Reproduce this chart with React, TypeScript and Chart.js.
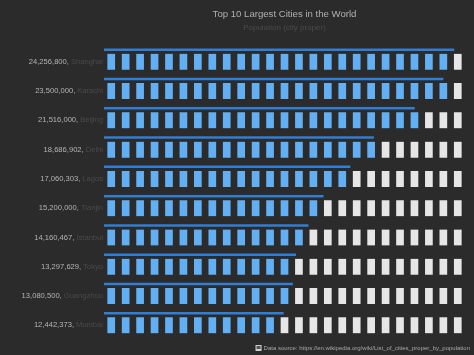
import React, { useEffect, useRef } from "react";
import { Chart, registerables } from "chart.js";

Chart.register(...registerables);

const TITLE = "Top 10 Largest Cities in the World";
const SUBTITLE = "Population (city proper)";
const SOURCE = "Data source: https://en.wikipedia.org/wiki/List_of_cities_proper_by_population";

const CITIES = ["Shanghai", "Karachi", "Beijing", "Delhi", "Lagos", "Tianjin", "Istanbul", "Tokyo", "Guangzhou", "Mumbai"];
const POPULATION = [24256800, 23500000, 21516000, 18686902, 17060303, 15200000, 14160467, 13297629, 13080500, 12442373];
const UNIT = 1000000; // one icon = 1 million people
const ICON_COUNT = 25;

const BG = "#2b2b2b";
const ICON_ON = "#62b0f3";
const ICON_OFF = "#e6e6e6";
const LINE = "#2f7fd6";
const VALUE_COLOR = "#b4b4b4";
const NAME_COLOR = "#4a4a4a";
const FONT = "'Liberation Sans', Arial, sans-serif";

const labelPlugin = {
  id: "cityLabels",
  afterDraw(chart: any) {
    const { ctx, chartArea, scales } = chart;
    const y = scales.y;
    ctx.save();
    ctx.font = `7.6px ${FONT}`;
    ctx.textBaseline = "middle";
    ctx.textAlign = "right";
    CITIES.forEach((city, i) => {
      const py = y.getPixelForValue(i);
      let x = chartArea.left - 1;
      ctx.fillStyle = NAME_COLOR;
      ctx.fillText(city, x, py);
      x -= ctx.measureText(city).width + 2;
      ctx.fillStyle = VALUE_COLOR;
      ctx.fillText(POPULATION[i].toLocaleString("en-US") + ",", x, py);
    });
    // footer
    ctx.font = `6px ${FONT}`;
    ctx.fillStyle = "#a8a8a8";
    ctx.textAlign = "right";
    const fx = chart.width - 4;
    const fy = chart.height - 7;
    ctx.fillText(SOURCE, fx, fy);
    const w = ctx.measureText(SOURCE).width;
    ctx.fillStyle = "#d0d0d0";
    ctx.fillRect(fx - w - 8, fy - 3, 6, 6);
    ctx.fillStyle = "#555";
    ctx.fillRect(fx - w - 7, fy - 2, 4, 3);
    ctx.restore();
  },
};

export default function App() {
  const ref = useRef<HTMLCanvasElement>(null);
  useEffect(() => {
    if (!ref.current) return;
    Chart.defaults.font.family = FONT;
    const iconSets = Array.from({ length: ICON_COUNT }, (_, k) => ({
      type: "bar" as const,
      data: CITIES.map(() => [k * UNIT, (k + 1) * UNIT]),
      backgroundColor: POPULATION.map((v) => (k < Math.round(v / UNIT) ? ICON_ON : ICON_OFF)),
      borderColor: "rgba(0,0,0,0)",
      borderWidth: { left: 3.7, right: 3.7, top: 0, bottom: 0 },
      borderSkipped: false,
      grouped: false,
      barThickness: 16,
      stack: "icon" + k,
    }));
    const chart = new Chart(ref.current, {
      type: "bar",
      data: {
        labels: CITIES,
        datasets: [
          {
            data: POPULATION,
            backgroundColor: LINE,
            grouped: true,
            categoryPercentage: 1.645,
            barPercentage: 0.2,
            maxBarThickness: 2.5,
            stack: "line",
          } as any,
          {
            data: CITIES.map(() => null),
            grouped: true,
            categoryPercentage: 1.645,
            stack: "dummy",
          } as any,
          ...iconSets,
        ],
      },
      options: {
        indexAxis: "y",
        animation: false,
        responsive: false,
        layout: { padding: { left: 104, right: 9, top: 0, bottom: 15 } },
        plugins: {
          legend: { display: false },
          tooltip: { enabled: false },
          title: {
            display: true,
            text: TITLE,
            color: "#b0b0b0",
            font: { size: 9.6, weight: "normal" },
            padding: { top: 9, bottom: 2 },
          },
          subtitle: {
            display: true,
            text: SUBTITLE,
            color: NAME_COLOR,
            font: { size: 8 },
            padding: { top: 0, bottom: 15 },
          },
        },
        scales: {
          x: { display: false, min: 0, max: ICON_COUNT * UNIT, stacked: false },
          y: { display: false, offset: true, grid: { display: false } },
        },
      },
      plugins: [labelPlugin],
    });
    return () => chart.destroy();
  }, []);
  return (
    <div style={{ position: "fixed", left: 0, top: 0, width: 474, height: 355, background: BG }}>
      <canvas ref={ref} width={474} height={355} />
    </div>
  );
}
